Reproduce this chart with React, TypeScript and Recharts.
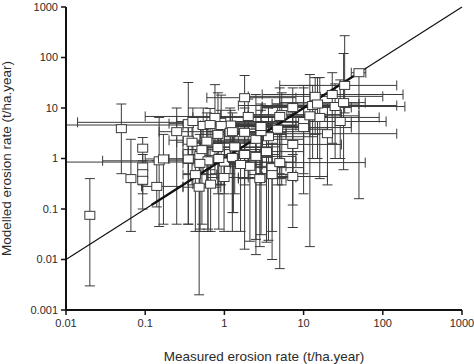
import {
  ScatterChart,
  Scatter,
  XAxis,
  YAxis,
  ErrorBar,
  ReferenceLine,
} from "recharts";

// measured (x) vs modelled (y), with low/high bounds
const measured = [
  0.02, 0.05, 0.066, 0.093, 0.093, 0.093, 0.093, 0.15, 0.14, 1.2,
  0.9, 1.0, 2.0, 0.25, 0.35, 0.4, 0.35, 0.49, 0.48, 0.62,
  0.76, 0.83, 0.91, 1.18, 0.85, 0.62, 1.3, 0.43, 0.67, 0.99,
  0.6, 0.83, 0.54, 0.66, 1.8, 1.8, 5.3, 7.3, 14, 13,
  25, 32, 33, 50, 10, 16, 20, 29, 4.7, 3.6,
  2.5, 2.9, 1.26, 1.26, 1.8, 2.5, 3.4, 4.0, 5.0, 7.3,
  2.9, 2.1, 23, 1.35, 12, 7.3, 5.0, 0.35, 0.49, 1.6,
  0.52, 0.39, 0.17, 4.0, 2.8, 2.9, 10, 15,
];
const modelled = [
  0.075, 3.9, 0.4, 1.6, 0.68, 0.5, 0.37, 0.9, 0.28, 4.6,
  5.2, 0.85, 6.8, 3.4, 4.9, 5.4, 2.3, 1.15, 0.27, 2.1,
  6.5, 3.0, 4.5, 3.3, 1.0, 0.9, 1.0, 0.48, 0.31, 0.42,
  2.2, 1.65, 4.5, 4.7, 16, 3.3, 7.4, 10.2, 17, 11.2,
  10.7, 12.8, 28, 50, 5.4, 6.5, 3.1, 5.4, 3.8, 2.7,
  2.4, 3.4, 3.4, 1.05, 1.2, 1.1, 1.37, 0.66, 0.83, 1.9,
  0.42, 0.7, 18.5, 1.7, 7, 0.44, 6.8, 0.98, 0.8, 0.76,
  1.5, 2.1, 0.98, 0.48, 0.4, 4.3, 4.1, 12,
];
const measuredLow = [
  null, null, null, null, null, null, null, 0.029, 0.09, 0.01,
  0.014, 0.01, 0.1, 0.15, 0.2, 0.25, 0.2, 0.3, 0.3, 0.4,
  0.4, 0.5, 0.5, 0.7, 0.5, 0.4, 0.8, 0.3, 0.4, 0.6,
  0.3, 0.5, 0.3, 0.35, 0.6, 1, 2, 3, 2, 1.5,
  3, 5, 5, 40, 2, 2, 1, 4, 1.5, 1,
  1, 1.2, 0.6, 0.8, 1, 1.2, 1.5, 2, 0.5, 3,
  1.5, 1, 3, 0.7, 2, 3, 2, 0.2, 0.3, 1,
  0.3, 0.25, 0.1, 2, 1.5, 1.2, 3, 4,
];
const measuredHigh = [
  null, null, null, null, null, null, null, 2.5, 0.3, 12,
  10, 8, 20, 2, 5, 8, 3, 2, 0.9, 3,
  5, 6, 8, 5, 2, 2, 3, 0.8, 1, 2,
  3, 4, 3, 4, 8, 6, 30, 40, 100, 150,
  190, 60, 150, 61, 40, 90, 150, 110, 20, 15,
  10, 12, 5, 4, 5, 8, 10, 10, 60, 30,
  8, 6, 180, 5, 50, 20, 20, 1, 1.2, 3,
  2.5, 1.5, 0.5, 8, 6, 10, 40, 50,
];
const modelledLow = [
  0.003, 0.5, 0.036, 0.5, 0.3, 0.2, 0.1, 0.045, 0.11, 0.8,
  1.5, 0.2, 2, 0.05, 0.5, 1.2, 0.05, 0.04, 0.002, 0.04,
  0.5, 0.3, 0.3, 0.5, 0.04, 0.036, 0.085, 0.036, 0.036, 0.036,
  0.3, 0.2, 0.5, 0.6, 0.9, 0.3, 0.3, 0.5, 3, 1,
  1, 0.6, 8, 0.16, 0.5, 0.4, 0.3, 1, 0.3, 0.024,
  0.025, 0.3, 0.085, 0.036, 0.016, 0.0125, 0.022, 0.01, 0.0066, 0.043,
  0.031, 0.023, 2, 0.2, 0.018, 0.12, 0.5, 0.05, 0.036, 0.036,
  0.05, 0.3, 0.05, 0.036, 0.018, 0.4, 0.2, 1,
];
const modelledHigh = [
  0.4, 12, 2.4, 2.6, 1.2, 0.9, 0.6, 6.5, 0.9, 9,
  9, 2, 15, 10, 32, 10, 5, 3, 1, 5,
  29, 20, 18, 10, 3, 2, 3, 1.5, 0.8, 1,
  8, 6, 10, 9.8, 44, 10, 20, 25, 40, 28,
  30, 120, 270, 55, 25, 40, 12, 36, 12, 10,
  18.5, 9, 8, 3, 4, 4, 5, 2, 3, 8,
  1.5, 2, 50, 5, 46, 1.2, 25, 2.5, 2, 2,
  4, 5, 3, 1.2, 1.5, 12, 28, 40,
];

const ticks = [0.01, 0.1, 1, 10, 100, 1000];

const data = measured.map((x, i) => {
  const xl = measuredLow[i];
  const xh = measuredHigh[i];
  return {
    x,
    y: modelled[i],
    ex: xl == null || xh == null ? null : [x - xl, xh - x],
    ey: [modelled[i] - modelledLow[i], modelledHigh[i] - modelled[i]],
  };
});

const INK = "#3a3a3a";

function Box(props: any) {
  const { cx, cy } = props;
  if (cx == null || cy == null) return null;
  return (
    <rect
      x={cx - 5}
      y={cy - 4}
      width={10}
      height={8}
      fill="#fff"
      stroke={INK}
      strokeWidth={1}
    />
  );
}

const tickStyle = { fontSize: 11, fill: "#2a2a2a" };

export default function App() {
  return (
    <div
      style={{
        position: "absolute",
        left: 0,
        top: 0,
        fontFamily: "'Liberation Sans', Arial, sans-serif",
      }}
    >
      <ScatterChart
        width={474}
        height={364}
        margin={{ top: 7, right: 12, left: 0, bottom: 0 }}
      >
        <XAxis
          type="number"
          dataKey="x"
          scale="log"
          domain={[0.01, 1000]}
          ticks={ticks}
          allowDataOverflow
          height={54}
          tickSize={5}
          tickMargin={4}
          tick={tickStyle}
          tickFormatter={(v) => String(v)}
          axisLine={{ stroke: "#111", strokeWidth: 2 }}
          tickLine={{ stroke: "#111", strokeWidth: 1.5 }}
          label={{
            value: "Measured erosion rate (t/ha.year)",
            position: "insideBottom",
            offset: 3,
            style: { fontSize: 13.5, fill: "#2a2a2a" },
          }}
        />
        <YAxis
          type="number"
          dataKey="y"
          scale="log"
          domain={[0.001, 1000]}
          ticks={[0.001, ...ticks]}
          allowDataOverflow
          width={66}
          tickSize={5}
          tickMargin={3}
          tick={tickStyle}
          tickFormatter={(v) => String(v)}
          axisLine={{ stroke: "#111", strokeWidth: 2 }}
          tickLine={{ stroke: "#111", strokeWidth: 1.5 }}
          label={{
            value: "Modelled erosion rate (t/ha.year)",
            angle: -90,
            position: "insideLeft",
            offset: 6,
            style: { fontSize: 13.5, fill: "#2a2a2a", textAnchor: "middle" },
          }}
        />
        <Scatter data={data} shape={Box} isAnimationActive={false}>
          <ErrorBar
            dataKey="ey"
            direction="y"
            width={5}
            stroke={INK}
            strokeWidth={1}
          />
          <ErrorBar
            dataKey="ex"
            direction="x"
            width={5}
            stroke={INK}
            strokeWidth={1}
          />
        </Scatter>
        <ReferenceLine
          segment={[
            { x: 0.01, y: 0.01 },
            { x: 1000, y: 1000 },
          ]}
          stroke="#111"
          strokeWidth={1.2}
          ifOverflow="visible"
        />
        <ReferenceLine
          segment={[
            { x: 0.12, y: 0.12 },
            { x: 45, y: 45 },
          ]}
          stroke="#111"
          strokeWidth={2.2}
          ifOverflow="visible"
        />
      </ScatterChart>
    </div>
  );
}
